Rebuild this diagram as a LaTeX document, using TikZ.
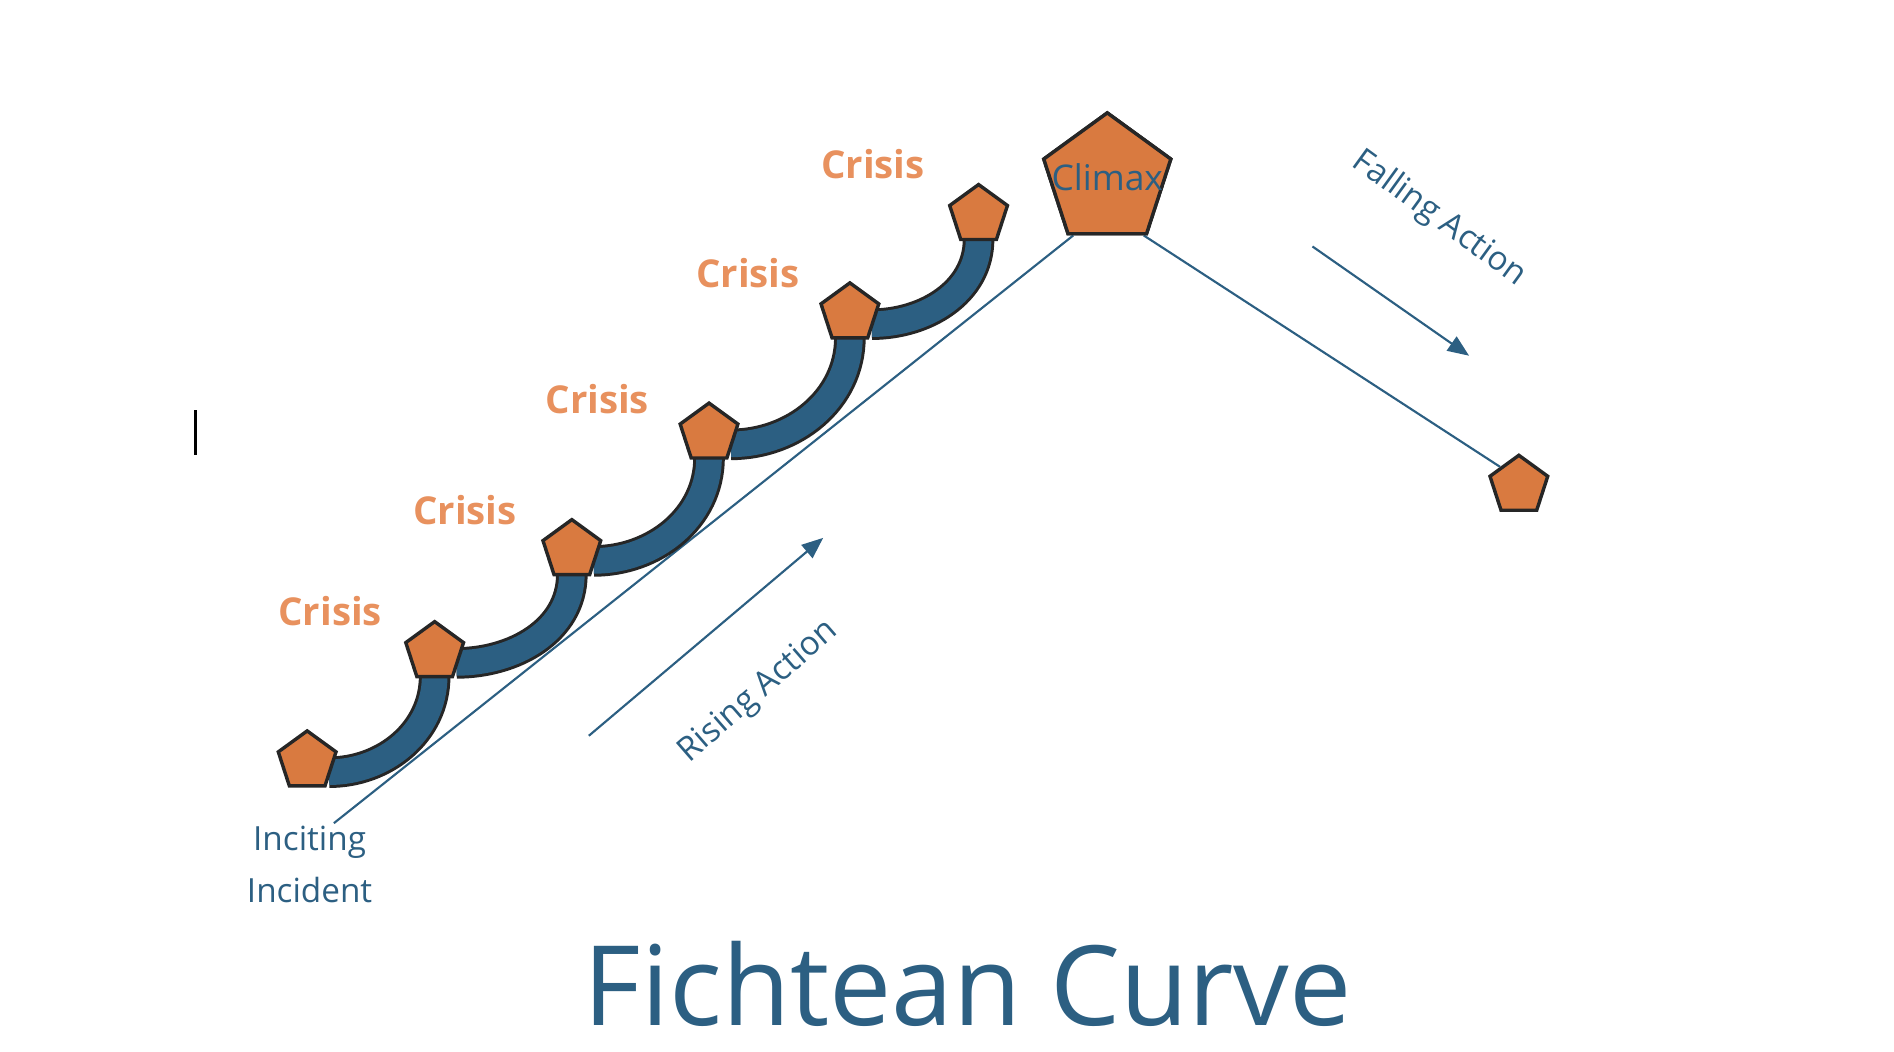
\documentclass[tikz,border=0pt]{standalone}
\usepackage{fontspec}
\setmainfont{Open Sans}
\usetikzlibrary{shapes.geometric,arrows.meta}
\definecolor{orng}{HTML}{D97A40}
\definecolor{lorng}{HTML}{E8915E}
\definecolor{dblue}{HTML}{2C5F82}
\tikzset{
  pent/.style={regular polygon,regular polygon sides=5,minimum size=0.5cm,inner sep=0pt,fill=orng,draw=black!85,line width=0.8pt},
  band/.style={line width=7.4pt,draw=black!85},
  bandin/.style={line width=6pt,draw=dblue},
  crisis/.style={text=lorng,font=\bfseries\fontsize{9}{10}\selectfont},
  thinl/.style={draw=dblue,line width=0.5pt},
  lbl/.style={text=dblue,font=\fontsize{7.8}{9.6}\selectfont}
}
\begin{document}
\begin{tikzpicture}
\useasboundingbox (0,0) rectangle (15.6,-8.66);
\coordinate (p1) at (2.53,-6.27);
\coordinate (p2) at (3.58,-5.37);
\coordinate (p3) at (4.71,-4.53);
\coordinate (p4) at (5.84,-3.57);
\coordinate (p5) at (7.00,-2.58);
\coordinate (p6) at (8.06,-1.77);
\coordinate (ii) at (2.75,-6.78);
\node[pent,minimum size=1.1cm] (clim) at (9.12,-1.48) {};
\draw[thinl] (ii) -- ([xshift=-0.28cm]clim.south);
\node[pent] (p7n) at (12.51,-4.00) {};
\draw[thinl] ([xshift=0.3cm]clim.south) -- (p7n.north west);
\foreach \a/\b in {p1/p2,p2/p3,p3/p4,p4/p5,p5/p6}{
  \draw[band] ([shift={(0.18,-0.09)}]\a) to[out=0,in=-90] ([shift={(0,-0.2)}]\b);
  \draw[bandin] ([shift={(0.18,-0.09)}]\a) to[out=0,in=-90] ([shift={(0,-0.2)}]\b);
}
\foreach \p in {p1,p2,p3,p4,p5,p6}{ \node[pent] (\p n) at (\p) {}; }
\node[pent,minimum size=1.1cm] (clim2) at (9.12,-1.48) {};
\node[lbl,font=\fontsize{8.3}{10}\selectfont] (climt) at (9.12,-1.46) {Climax};
\node[crisis] (c1) at (2.72,-5.03) {Crisis};
\node[crisis] (c2) at (3.83,-4.20) {Crisis};
\node[crisis] (c3) at (4.92,-3.29) {Crisis};
\node[crisis] (c4) at (6.16,-2.25) {Crisis};
\node[crisis] (c5) at (7.19,-1.35) {Crisis};
\coordinate (ra1) at (4.85,-6.06); \coordinate (ra2) at (6.78,-4.43);
\draw[thinl,-{Triangle[length=5pt,width=4pt]}] (ra1) -- (ra2);
\node[lbl,rotate=41] (rat) at (6.25,-5.70) {Rising Action};
\coordinate (fa1) at (10.81,-2.03); \coordinate (fa2) at (12.10,-2.93);
\draw[thinl,-{Triangle[length=5pt,width=4pt]}] (fa1) -- (fa2);
\node[lbl,rotate=-36] (fat) at (11.85,-1.80) {Falling Action};
\node[lbl,align=center,font=\fontsize{7.8}{12.3}\selectfont] (inc) at (2.55,-7.12) {Inciting\\Incident};
\node[text=dblue,font=\fontsize{26}{30}\selectfont] (title) at (7.97,-8.10) {Fichtean Curve};
\coordinate (cur1) at (1.61,-3.38); \coordinate (cur2) at (1.61,-3.75);
\draw[black,line width=0.5pt] (cur1) -- (cur2);
\end{tikzpicture}
\end{document}
